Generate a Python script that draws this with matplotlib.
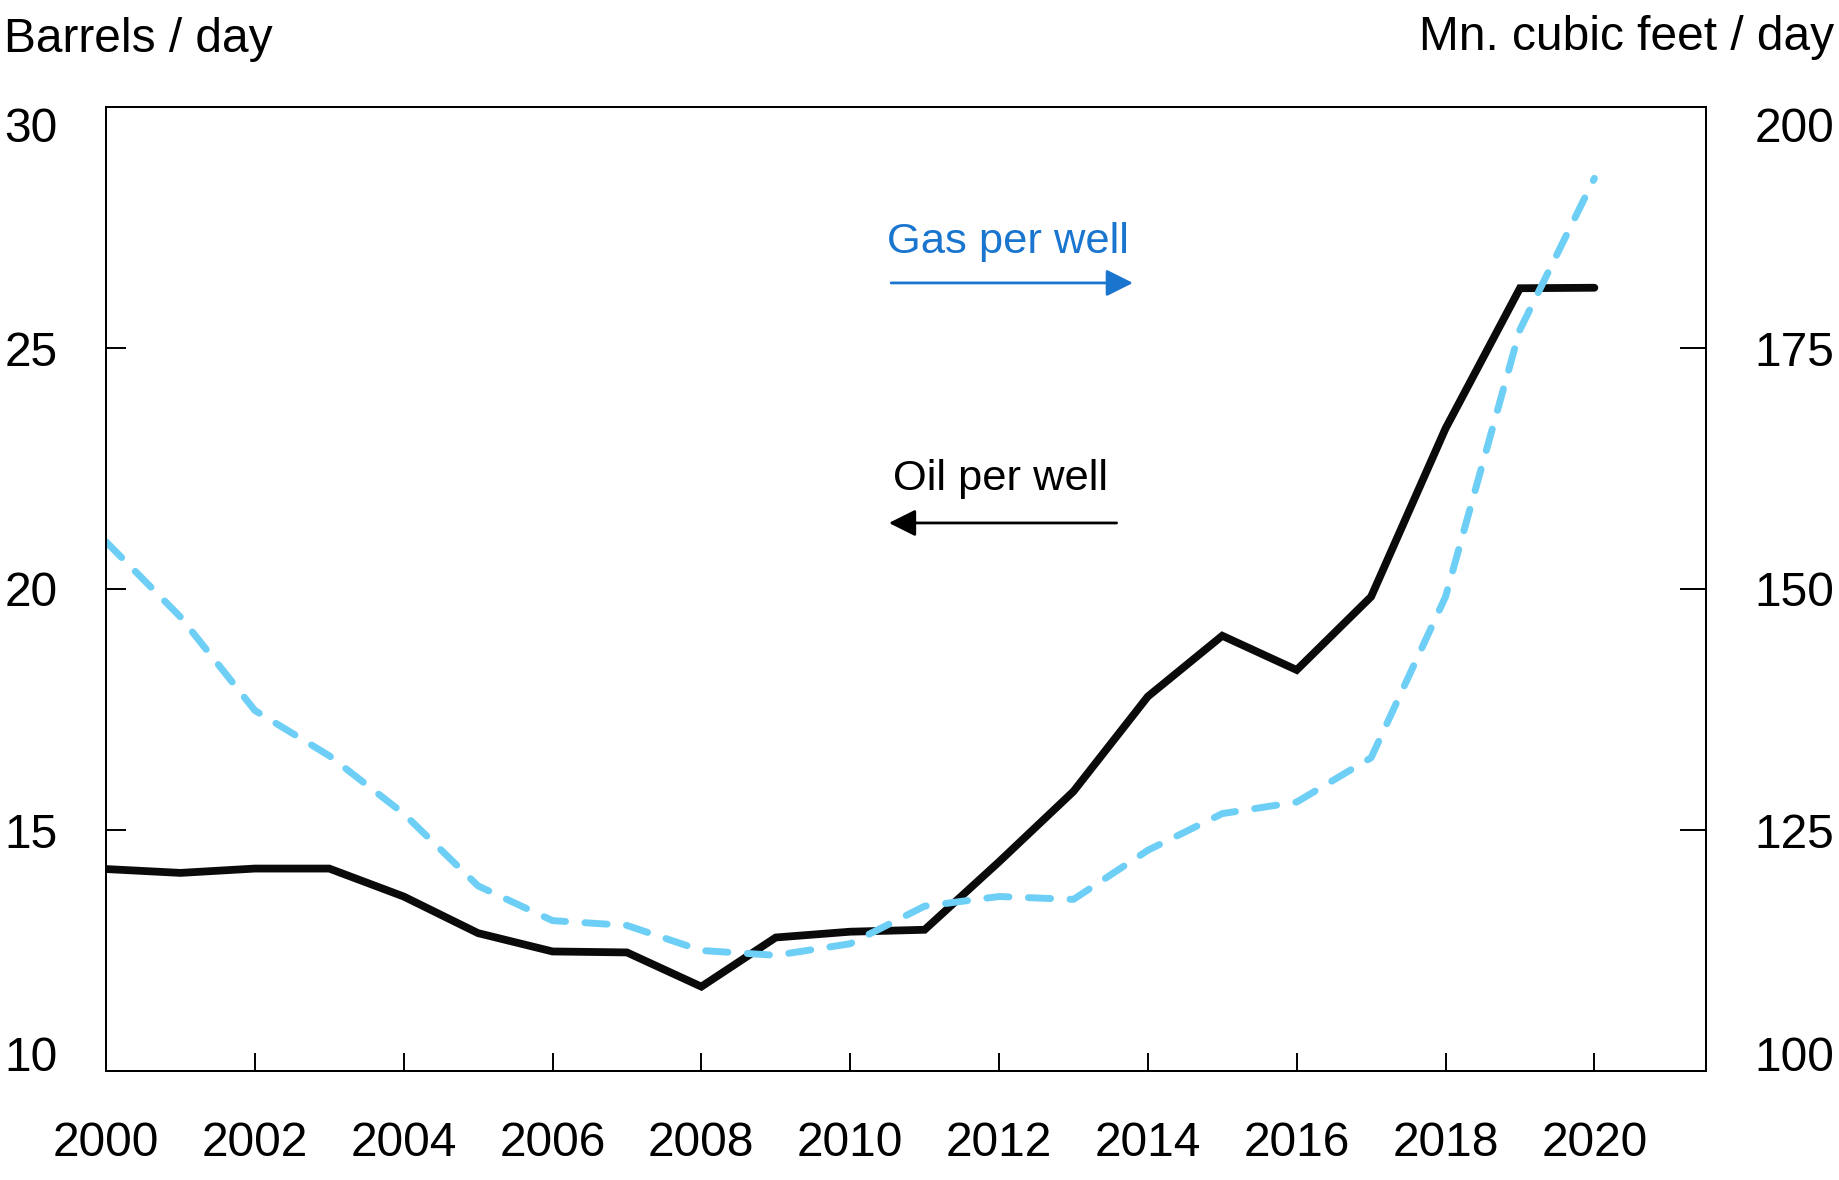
import matplotlib
matplotlib.use("Agg")
import matplotlib.pyplot as plt

plt.rcParams['font.family'] = ['Liberation Sans', 'DejaVu Sans']

years = list(range(2000, 2021))
oil_per_well = [14.19, 14.11, 14.20, 14.20, 13.62, 12.86, 12.48, 12.46, 11.75, 12.77,
                12.89, 12.93, 14.34, 15.80, 17.77, 19.03, 18.32, 19.84, 23.33, 26.24, 26.25]
gas_per_well = [154.9, 147.1, 137.4, 132.7, 126.7, 119.2, 115.6, 115.1, 112.5, 112.0,
                113.2, 117.1, 118.1, 117.8, 122.9, 126.7, 127.9, 132.5, 149.2, 176.9, 192.6]

left_ticks = [10, 15, 20, 25, 30]
right_ticks = [100, 125, 150, 175, 200]
x_ticks = list(range(2000, 2021, 2))

OIL_COLOR = '#0a0a0a'
GAS_COLOR = '#6ecff6'
GAS_TEXT = '#1a75cf'
FS = 34.5

fig = plt.figure(figsize=(18.4, 11.8), dpi=100)
ax = fig.add_axes([106 / 1840, 1 - 1071 / 1180, 1600 / 1840, 964 / 1180])
ax2 = ax.twinx()

ax.plot(years, oil_per_well, color=OIL_COLOR, lw=5.6,
        solid_capstyle='round', solid_joinstyle='miter')
ax2.plot(years, gas_per_well, color=GAS_COLOR, lw=5.0,
         dashes=(3.2, 2.8), dash_capstyle='round', dash_joinstyle='round')

ax.set_xlim(2000, 2021.5)
ax.set_ylim(10, 30)
ax2.set_ylim(100, 200)
ax.set_xticks(x_ticks)
ax.set_xticklabels([str(y) for y in x_ticks])
ax.set_yticks(left_ticks)
ax.set_yticklabels([str(v) for v in left_ticks])
ax2.set_yticks(right_ticks)
ax2.set_yticklabels([str(v) for v in right_ticks])

ax.tick_params(axis='x', direction='in', length=13, width=1.4, pad=36, labelsize=FS)
ax.tick_params(axis='y', direction='in', length=14.5, width=1.4, pad=35, labelsize=FS)
ax2.tick_params(axis='y', direction='in', length=19, width=1.4, pad=35, labelsize=FS)

for a in (ax, ax2):
    for s in a.spines.values():
        s.set_linewidth(1.4)
        s.set_color('black')

# end labels sit inside the plot range
for lbls in (ax.get_yticklabels(), ax2.get_yticklabels()):
    lbls[-1].set_verticalalignment('top')
    lbls[0].set_verticalalignment('baseline')

fig.text(4 / 1840, 1 - 52 / 1180, 'Barrels / day', ha='left', va='baseline', fontsize=FS)
fig.text(1834 / 1840, 1 - 50 / 1180, 'Mn. cubic feet / day', ha='right', va='baseline', fontsize=FS)

# annotations
ax.text(2012.12, 26.97, 'Gas per well', color=GAS_TEXT, fontsize=31.3, ha='center', va='baseline')
ax.annotate('', xy=(2013.80, 26.35), xytext=(2010.55, 26.35),
            arrowprops=dict(arrowstyle='-|>', color=GAS_TEXT, lw=2.0,
                            mutation_scale=41, shrinkA=0, shrinkB=0))
ax.text(2012.02, 22.05, 'Oil per well', color='black', fontsize=31.3, ha='center', va='baseline')
ax.annotate('', xy=(2010.52, 21.37), xytext=(2013.58, 21.37),
            arrowprops=dict(arrowstyle='-|>', color='black', lw=2.0,
                            mutation_scale=41, shrinkA=0, shrinkB=0))

fig.savefig('out.png', dpi=100)
